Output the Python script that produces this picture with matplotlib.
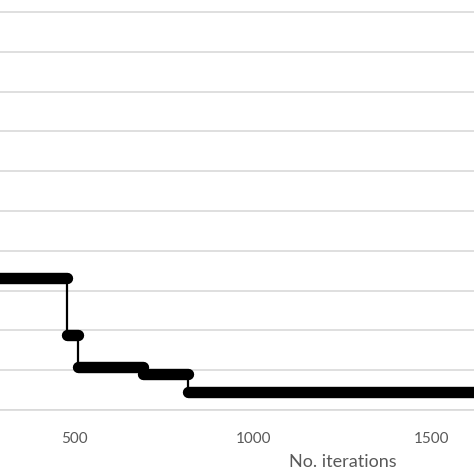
import matplotlib
matplotlib.use("Agg")
import matplotlib.pyplot as plt

# ==========================================================
# DATA
# ==========================================================

# iteration where each level starts / ends
step_edges = [0, 477, 509, 691, 818, 1700]
# best value at each level (arbitrary units, gridlines at 1 unit)
levels = [3.32, 1.88, 1.07, 0.90, 0.46]

x_ticks = [500, 1000, 1500]
x_label = "No. iterations"

# ==========================================================
# PLOT
# ==========================================================

plt.rcParams["font.family"] = ["Lato", "DejaVu Sans"]

fig = plt.figure(figsize=(4.74, 4.74), dpi=100)
ax = fig.add_axes([0, 64 / 474, 1, 410 / 474])

grid_col = "#d9d9d9"
txt_col = "#595959"

# thin connecting line (step shape)
sx, sy = [], []
for i, lv in enumerate(levels):
    sx += [step_edges[i], step_edges[i + 1]]
    sy += [lv, lv]
ax.plot(sx, sy, color="black", lw=1.6, zorder=3)

# thick horizontal runs (dense markers in the original)
for i, lv in enumerate(levels):
    ax.plot([step_edges[i], step_edges[i + 1]], [lv, lv],
            color="black", lw=8.2, solid_capstyle="round", zorder=4)

ax.set_xlim(290, 1620)
ax.set_ylim(0, 10 + 12 / 39.8)

ax.set_yticks(range(0, 11))
ax.set_yticklabels([])
ax.yaxis.grid(True, color=grid_col, lw=1.2)
ax.set_axisbelow(True)

ax.set_xticks(x_ticks)
ax.set_xticklabels([str(t) for t in x_ticks])
ax.tick_params(axis="x", length=0, pad=16, labelsize=11, labelcolor=txt_col)
ax.tick_params(axis="y", length=0)

for s in ["top", "left", "right"]:
    ax.spines[s].set_visible(False)
ax.spines["bottom"].set_color(grid_col)
ax.spines["bottom"].set_linewidth(1.2)

fig.text(343 / 474, 1 - 462 / 474, x_label, ha="center", va="center",
         fontsize=13, color=txt_col)

fig.savefig("out.png", dpi=100)
plt.close()
